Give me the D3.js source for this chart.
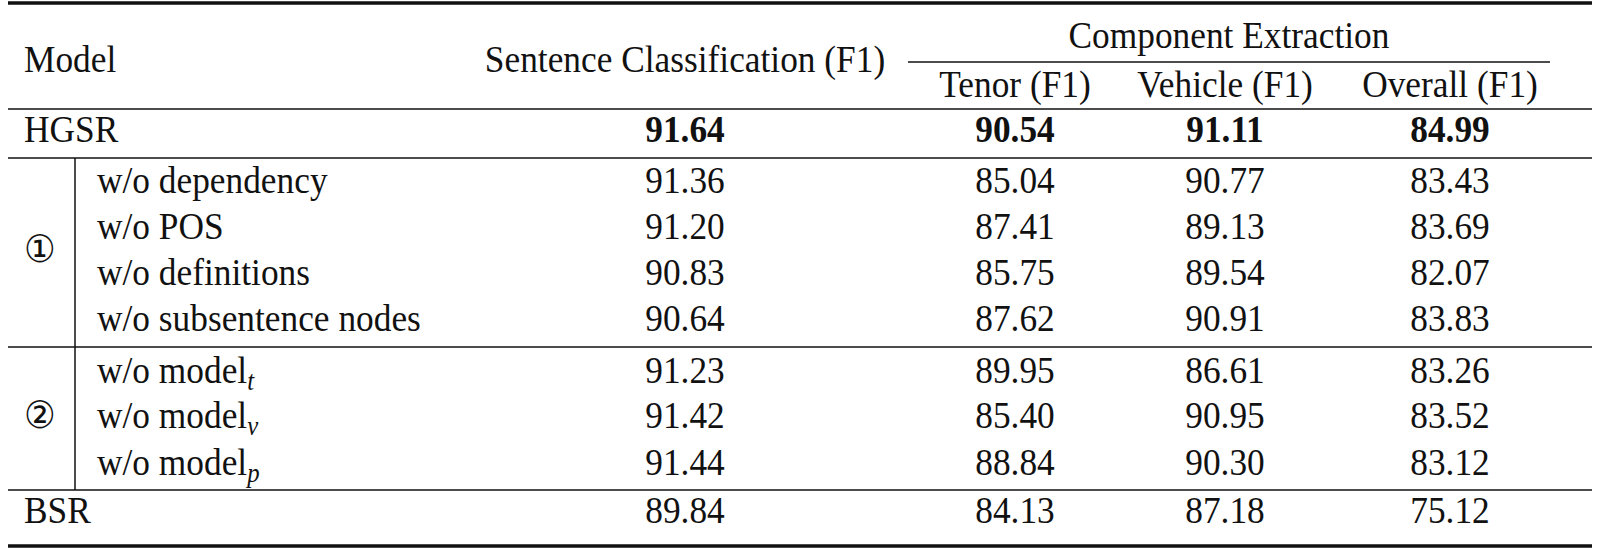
<!DOCTYPE html>
<html><head><meta charset="utf-8">
<script src="https://cdn.jsdelivr.net/npm/d3@7"></script>
<style>body{margin:0;background:#fff}</style></head>
<body><svg id="c" width="1599" height="549"></svg>
<script>
const models = [["HGSR",""],["w/o dependency",""],["w/o POS",""],["w/o definitions",""],["w/o subsentence nodes",""],["w/o model","t"],["w/o model","v"],["w/o model","p"],["BSR",""]];
const groups = ["","①","①","①","①","②","②","②",""];
const sentence = ["91.64","91.36","91.20","90.83","90.64","91.23","91.42","91.44","89.84"];
const tenor = ["90.54","85.04","87.41","85.75","87.62","89.95","85.40","88.84","84.13"];
const vehicle = ["91.11","90.77","89.13","89.54","90.91","86.61","90.95","90.30","87.18"];
const overall = ["84.99","83.43","83.69","82.07","83.83","83.26","83.52","83.12","75.12"];
const headers = ["Model","Sentence Classification (F1)","Component Extraction","Tenor (F1)","Vehicle (F1)","Overall (F1)"];

const svg = d3.select("#c");
const FS = 38, SX = 0.93;
const font = "Liberation Serif, Tinos, Times New Roman, Times, DejaVu Serif, serif";
function txt(x,y,s,anchor,bold){
  return svg.append("text").attr("transform",`translate(${x},${y}) scale(${SX},1)`)
    .attr("text-anchor",anchor||"middle").style("font-family",font).attr("font-size",FS)
    .attr("font-weight",bold?"bold":"normal").attr("fill","#111").text(s);
}
function line(x1,x2,y,w){svg.append("line").attr("x1",x1).attr("x2",x2).attr("y1",y).attr("y2",y).attr("stroke","#111").attr("stroke-width",w);}

const rowY = d3.scaleOrdinal().domain(d3.range(9)).range([142,193,239,285,331,383,428,475,523]);
const colX = [685,1015,1225,1450];

line(8,1592,3,3.5); line(908,1550,62,1.5); line(8,1592,109,1.5); line(8,1592,158,1.5);
line(8,1592,347,1.5); line(8,1592,490,1.5); line(8,1592,546,3.5);
svg.append("line").attr("x1",75).attr("x2",75).attr("y1",158).attr("y2",490).attr("stroke","#111").attr("stroke-width",1.5);

txt(24,72,headers[0],"start"); txt(685,72,headers[1]); txt(1229,48,headers[2]);
txt(1015,97,headers[3]); txt(1225,97,headers[4]); txt(1450,97,headers[5]);

models.forEach((m,i)=>{
  const y = rowY(i), x = (i===0||i===8)?24:97;
  const t = txt(x,y,m[0],"start");
  if(m[1]) t.append("tspan").attr("font-style","italic").attr("font-size",FS*0.7).attr("dy",7).text(m[1]);
  const b = i===0;
  [sentence,tenor,vehicle,overall].forEach((arr,j)=>txt(colX[j],y,arr[i],"middle",b));
});
txt(40,262,"①","middle"); txt(40,428,"②","middle");
</script></body></html>
